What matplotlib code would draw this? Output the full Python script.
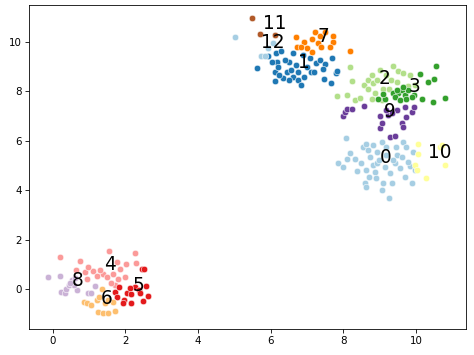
import matplotlib
matplotlib.use("Agg")
import matplotlib.pyplot as plt
import numpy as np

# Paired palette colours, cluster i uses colour i % 12
palette = ["#a6cee3", "#1f78b4", "#b2df8a", "#33a02c", "#fb9a99", "#e31a1c",
           "#fdbf6f", "#ff7f00", "#cab2d6", "#6a3d9a", "#ffff99", "#b15928"]

c0_x = [8.07, 7.86, 7.99, 8.09, 8.18, 8.32, 8.39, 8.48, 8.55, 8.62, 8.60, 8.62, 8.69, 8.74, 8.81,
        8.72, 8.87, 8.92, 8.92, 9.06, 9.08, 9.10, 9.14, 9.19, 9.28, 9.33, 9.27, 9.45, 9.42, 9.47,
        9.56, 9.70, 9.65, 9.74, 9.83, 9.88, 9.79, 9.93, 9.61, 9.36, 8.99, 8.83, 8.62, 9.19, 8.90, 9.97]
c0_y = [6.12, 5.11, 4.93, 5.25, 5.52, 5.25, 4.79, 5.11, 5.76, 5.87, 4.31, 4.15, 5.63, 5.36, 5.02,
        4.55, 4.75, 5.56, 5.11, 4.01, 5.96, 4.28, 4.95, 5.42, 4.68, 4.28, 3.67, 5.76, 5.09, 5.42,
        4.89, 4.55, 5.96, 5.76, 4.98, 4.28, 5.15, 5.56, 5.36, 5.22, 5.22, 5.83, 4.82, 5.76, 4.48, 4.82]

c1_x = [5.64, 5.94, 6.15, 6.28, 6.18, 6.12, 6.12, 6.35, 6.21, 6.44, 6.51, 6.62, 6.57, 6.69, 6.76,
        6.62, 6.76, 6.83, 6.90, 6.99, 7.10, 7.25, 7.36, 7.50, 7.45, 7.68, 7.47, 7.67, 7.80, 7.83,
        6.39, 6.24, 6.92, 7.08, 7.19, 6.51, 6.05]
c1_y = [8.92, 9.42, 9.53, 9.64, 9.19, 8.79, 8.43, 8.52, 8.99, 8.79, 9.19, 9.53, 8.86, 9.06, 8.79,
        8.59, 8.45, 8.25, 9.46, 8.99, 8.79, 9.13, 9.26, 9.10, 8.88, 9.33, 8.48, 8.34, 8.72, 8.83,
        9.26, 8.66, 8.59, 9.33, 8.79, 8.45, 9.19]

c2_x = [7.84, 8.09, 8.18, 8.23, 8.32, 8.46, 8.58, 8.69, 8.67, 8.78, 8.81, 8.87, 8.78, 9.01,
        9.19, 9.38, 9.52, 9.31, 9.47, 9.65, 9.83, 9.78, 9.10, 9.06, 9.27, 9.61, 8.92, 9.97]
c2_y = [7.82, 7.85, 8.99, 8.41, 7.64, 7.71, 8.25, 8.45, 8.08, 8.65, 8.32, 7.91, 7.67, 8.86,
        8.65, 9.02, 8.82, 8.45, 8.38, 8.72, 8.65, 8.21, 8.10, 7.64, 8.10, 8.05, 8.45, 8.25]

c3_x = [8.96, 9.15, 9.10, 9.38, 9.52, 9.43, 9.61, 9.70, 9.78, 9.47, 9.56, 9.96, 10.11, 10.16,
        10.34, 10.50, 10.54, 10.46, 10.80, 9.88, 9.65, 9.74]
c3_y = [7.67, 7.67, 7.89, 7.94, 7.91, 7.78, 8.05, 7.85, 8.05, 8.05, 7.64, 7.85, 8.69, 7.67,
        8.38, 8.48, 9.03, 7.58, 7.73, 7.78, 8.15, 7.67]

c4_x = [0.20, 0.75, 0.64, 0.89, 1.10, 1.21, 1.39, 1.54, 1.49, 1.78, 1.85, 1.67, 1.99, 2.02,
        2.27, 2.31, 1.72, 0.94, 1.30, 1.62, 1.81, 0.98]
c4_y = [1.32, 1.16, 0.78, 0.71, 0.75, 0.54, 0.62, 1.55, 0.51, 1.12, 0.81, 0.62, 0.51, 1.01,
        1.48, 1.08, 0.17, 0.40, 0.78, 0.27, 0.40, 0.92]

c5_x = [1.72, 1.76, 1.96, 2.04, 1.94, 2.15, 2.17, 2.28, 2.37, 2.45, 2.51, 2.40, 2.56, 2.50,
        2.64, 1.83, 2.13]
c5_y = [-0.09, -0.30, -0.43, -0.16, -0.57, -0.57, -0.19, 0.11, -0.03, 0.82, 0.81, -0.16, 0.13,
        -0.47, -0.26, 0.08, 0.04]

c6_x = [0.86, 0.95, 1.05, 1.21, 1.35, 1.28, 1.44, 1.24, 1.38, 1.53, 1.72, 1.67, 1.53]
c6_y = [-0.50, -0.54, -0.63, -0.43, 0.00, -0.32, -0.57, -0.90, -0.97, -0.94, -0.86, -0.52, -0.43]

c7_x = [6.71, 6.92, 6.72, 6.99, 7.13, 7.22, 7.36, 7.31, 7.13, 7.40, 7.71, 7.72, 7.63, 8.18, 7.50, 6.85]
c7_y = [10.17, 9.97, 9.80, 9.73, 10.09, 10.38, 10.23, 9.93, 9.60, 9.80, 10.24, 9.97, 9.80, 9.62, 10.40, 9.80]

c8_x = [-0.12, 0.20, 0.22, 0.33, 0.37, 0.46, 0.53, 0.61, 0.68, 0.98, 1.07, 1.17, 0.59, 0.48]
c8_y = [0.48, 0.55, -0.09, -0.13, 0.01, 0.17, 0.38, 0.47, -0.03, -0.16, -0.13, 0.13, 0.17, 0.24]

c9_x = [8.00, 8.05, 8.09, 8.23, 8.57, 9.01, 9.01, 9.08, 9.24, 9.28, 9.42, 9.47, 9.33, 9.70,
        9.72, 9.61, 9.65, 9.88, 9.96, 9.19]
c9_y = [7.00, 7.17, 7.27, 7.27, 7.40, 7.00, 6.53, 6.70, 7.04, 6.16, 6.19, 7.24, 7.11, 7.38,
        6.94, 6.73, 6.54, 7.17, 7.38, 7.24]

c10_x = [10.06, 10.06, 9.97, 10.02, 10.28, 10.66, 10.80, 10.72]
c10_y = [5.87, 5.46, 5.02, 4.82, 4.48, 5.76, 5.02, 5.83]

c11_x = [5.50, 5.72, 6.13]
c11_y = [10.94, 10.31, 10.28]

c12_x = [5.03, 5.75, 5.84, 5.94, 6.07]
c12_y = [10.20, 9.43, 9.43, 9.73, 9.96]

clusters_x = [c0_x, c1_x, c2_x, c3_x, c4_x, c5_x, c6_x, c7_x, c8_x, c9_x, c10_x, c11_x, c12_x]
clusters_y = [c0_y, c1_y, c2_y, c3_y, c4_y, c5_y, c6_y, c7_y, c8_y, c9_y, c10_y, c11_y, c12_y]
cluster_labels = [str(i) for i in range(13)]

fig = plt.figure(figsize=(474 / 74, 355 / 74), dpi=74)
ax = fig.add_axes([29.3 / 474, 1 - 329 / 355, (465.7 - 29.3) / 474, (329 - 4.7) / 355])

for i, (xs, ys) in enumerate(zip(clusters_x, clusters_y)):
    ax.scatter(xs, ys, s=40, c=palette[i % 12], edgecolors="white", linewidths=0.5, zorder=2)

for i, (xs, ys) in enumerate(zip(clusters_x, clusters_y)):
    ax.text(np.mean(xs), np.mean(ys), cluster_labels[i], fontsize=18, zorder=3)

ax.set_xlim(-0.64, 11.37)
ax.set_ylim(-1.60, 11.49)
ax.set_xticks([0, 2, 4, 6, 8, 10])
ax.set_yticks([0, 2, 4, 6, 8, 10])

fig.savefig("out.png", dpi=74)
